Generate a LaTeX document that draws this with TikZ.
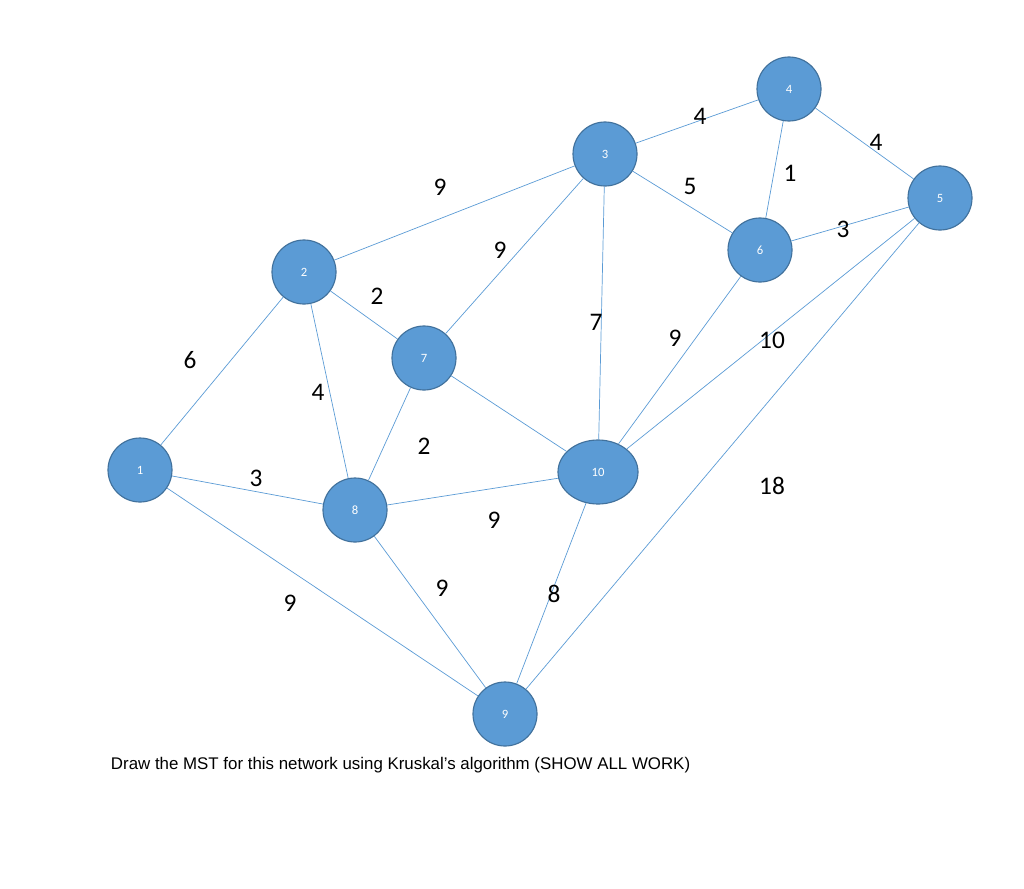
\documentclass[tikz,border=0pt]{standalone}
\usepackage{fontspec}
\setmainfont{Carlito}
\newfontfamily\arialf{Liberation Sans}
\usetikzlibrary{shapes.geometric}
\definecolor{nfill}{HTML}{5B9BD5}
\definecolor{nline}{HTML}{41719C}
\begin{document}
\begin{tikzpicture}[x=0.025cm,y=-0.025cm,
  v/.style={circle,fill=nfill,draw=nline,line width=0.8pt,minimum size=1.6cm,inner sep=0,text=white,font=\fontsize{9}{10}\selectfont},
  e/.style={draw=nfill,line width=0.5pt},
  w/.style={font=\fontsize{18}{20}\selectfont}]
\useasboundingbox (0,0) rectangle (1024,888);
\node[v] (n1) at (140,470) {1};
\node[v] (n2) at (304,272) {2};
\node[v] (n3) at (605,154) {3};
\node[v] (n4) at (789,89) {4};
\node[v] (n5) at (940,198) {5};
\node[v] (n6) at (760,250) {6};
\node[v] (n7) at (424,358) {7};
\node[v] (n8) at (355,510) {8};
\node[v] (n9) at (505,714) {9};
\node[v,ellipse,minimum width=2cm,minimum height=1.6cm] (n10) at (598,472) {10};
\begin{scope}[on background layer/.style={}]
\end{scope}
\foreach \a/\b in {n1/n2,n1/n8,n1/n9,n2/n3,n2/n7,n2/n8,n3/n4,n3/n6,n3/n7,n3/n10,n4/n6,n4/n5,n5/n6,n5/n10,n5/n9,n6/n10,n7/n8,n7/n10,n8/n10,n8/n9,n10/n9}
  \draw[e] (\a) -- (\b);
\node[w] (l1) at (190,360) {6};
\node[w] (l2) at (256,478) {3};
\node[w] (l3) at (290,603) {9};
\node[w] (l4) at (440,187) {9};
\node[w] (l5) at (377,296) {2};
\node[w] (l6) at (318,392) {4};
\node[w] (l7) at (700,116) {4};
\node[w] (l8) at (690,186) {5};
\node[w] (l9) at (500,250) {9};
\node[w] (l10) at (596,322) {7};
\node[w] (l11) at (790,173) {1};
\node[w] (l12) at (876,142) {4};
\node[w] (l13) at (843,229) {3};
\node[w] (l14) at (772,340) {10};
\node[w] (l15) at (772,486) {18};
\node[w] (l16) at (675,338) {9};
\node[w] (l17) at (424,446) {2};
\node[w] (l18) at (494,520) {9};
\node[w] (l19) at (442,588) {9};
\node[w] (l20) at (554,594) {8};
\node[anchor=west,font=\arialf\fontsize{12}{14}\selectfont] (cap) at (106,765) {Draw the MST for this network using Kruskal’s algorithm (SHOW ALL WORK)};
\end{tikzpicture}
\end{document}
